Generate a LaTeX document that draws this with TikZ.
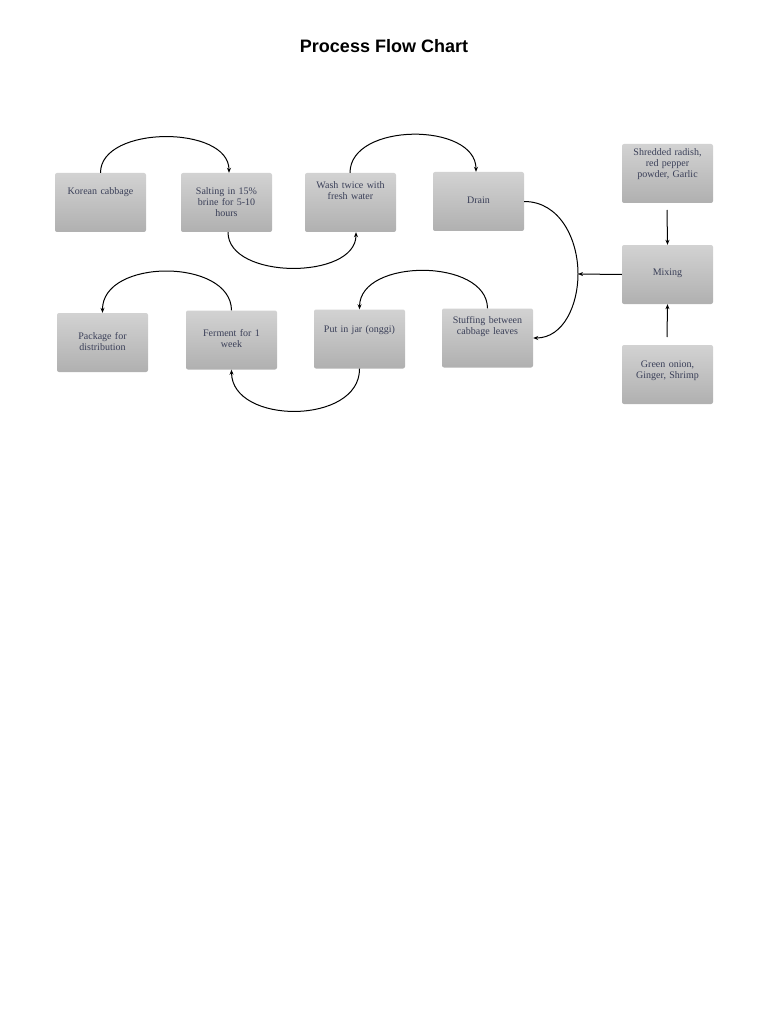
\documentclass[tikz,border=0pt]{standalone}
\usepackage{fontspec}
\setmainfont{Liberation Serif}
\newfontfamily\titlefont{Liberation Sans}
\usetikzlibrary{arrows.meta}
\definecolor{txt}{HTML}{3A3F58}
\begin{document}
\begin{tikzpicture}[x=1pt,y=-1pt,
  box/.style={rounded corners=2pt,top color=gray!35,bottom color=gray!62,draw=none,minimum width=91pt,minimum height=59pt},
  lab/.style={text=txt,font=\fontsize{10}{11}\selectfont,align=center,text width=85pt},
  con/.style={-{Stealth[length=5pt,width=4pt]},line width=1pt,black}]
\useasboundingbox (0,0) rectangle (768,1024);
\node[font=\titlefont\bfseries\fontsize{18}{20}\selectfont] (title) at (384,46) {Process Flow Chart};
% boxes
\node[box] (kc) at (100.5,202.5) {};
\node[box] (sa) at (226.5,202.5) {};
\node[box] (wa) at (350.5,202.5) {};
\node[box] (dr) at (478.5,201.5) {};
\node[box] (pk) at (102.5,342.5) {};
\node[box] (fe) at (231.5,340) {};
\node[box] (pj) at (359.5,339) {};
\node[box] (sf) at (487.5,338) {};
\node[box] (sr) at (667.5,173.5) {};
\node[box] (mx) at (667.5,274.5) {};
\node[box] (go) at (667.5,374.5) {};
% labels
\node[lab] at (100.5,192) {Korean cabbage};
\node[lab] at (226.5,202) {Salting in 15\%\\brine for 5-10\\hours};
\node[lab] at (350.5,190.5) {Wash twice with\\fresh water};
\node[lab] at (478.5,200.5) {Drain};
\node[lab] at (102.5,342) {Package for\\distribution};
\node[lab] at (231.5,339) {Ferment for 1\\week};
\node[lab] at (359.5,330) {Put in jar (onggi)};
\node[lab] at (487.5,327) {Stuffing between\\cabbage leaves};
\node[lab] at (667.5,164) {Shredded radish,\\red pepper\\powder, Garlic};
\node[lab] at (667.5,273.5) {Mixing};
\node[lab] at (667.5,371) {Green onion,\\Ginger, Shrimp};
\coordinate (j) at (578,274);
% connectors
\draw[con] (kc.north) .. controls (100.5,125) and (229,125) .. (sa.north -| 229,0);
\draw[con] (sa.south -| 228,0) .. controls (228,280) and (356,280) .. (wa.south -| 356,0);
\draw[con] (wa.north -| 350,0) .. controls (350,122) and (476,122) .. (dr.north -| 476,0);
\draw[con] (dr.east) to[out=0,in=90] (j) to[out=-90,in=0] (sf.east);
\draw[con] (mx.west) -- (j);
\draw[con] (667,210) -- (mx.north);
\draw[con] (667,337) -- (mx.south);
\draw[con] (sf.north) .. controls (487,258) and (360,258) .. (pj.north);
\draw[con] (pj.south) .. controls (360,425) and (232,425) .. (fe.south);
\draw[con] (fe.north) .. controls (231,258) and (102,258) .. (pk.north);
\end{tikzpicture}
\end{document}
